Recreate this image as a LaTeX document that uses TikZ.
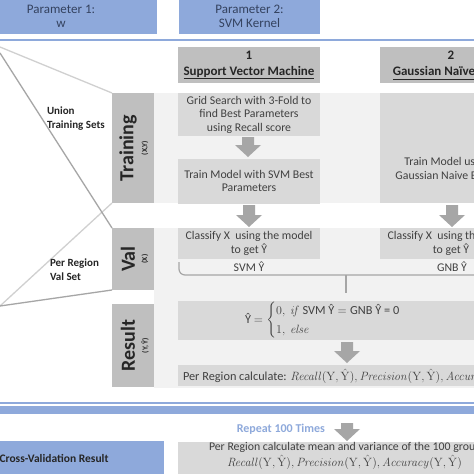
\documentclass[tikz,border=0pt]{standalone}
\usepackage{amsmath}
\usepackage[no-math]{fontspec}
\setmainfont{Carlito}
\definecolor{pblue}{HTML}{8EA9DB}
\definecolor{ptext}{HTML}{34425F}
\definecolor{hgray}{HTML}{BFBFBF}
\definecolor{bgray}{HTML}{D9D9D9}
\definecolor{lgray}{HTML}{F2F2F2}
\definecolor{agray}{HTML}{A6A6A6}
\definecolor{llgray}{HTML}{D0D0D0}
\definecolor{tgray}{HTML}{404040}
\newcommand\blockarrow[3]{\fill[agray] (#1-6,#2) -- (#1+6,#2) -- (#1+6,#3-12) -- (#1+13,#3-12) -- (#1,#3) -- (#1-13,#3-12) -- (#1-6,#3-12) -- cycle;}
\newcommand\Yh{\hat{\mathrm{Y}}}
\tikzset{
  x=1pt, y=-1pt,
  every node/.style={inner sep=0pt, outer sep=0pt},
  bodyfont/.style={font=\fontsize{11.8}{13.5}\selectfont},
  parambox/.style={fill=pblue, text=ptext, align=center, font=\fontsize{13}{14}\selectfont},
  headbox/.style={fill=hgray, text=black!85, align=center, font=\fontsize{13}{16}\selectfont\bfseries},
  stepbox/.style={fill=bgray, text=tgray, align=center, bodyfont},
  panel/.style={fill=lgray},
  labbox/.style={fill=hgray, minimum width=42},
  labtxt/.style={rotate=90, text=black!85, font=\fontsize{20}{22}\selectfont\bfseries},
  subtxt/.style={rotate=90, text=black!85, font=\fontsize{7.5}{8}\selectfont\bfseries},
  sidetxt/.style={align=left, anchor=west, text=black!85, font=\fontsize{11}{14}\selectfont\bfseries},
  plaintxt/.style={text=tgray, bodyfont},
  restxtstyle/.style={text=tgray, font=\fontsize{12.3}{16}\selectfont},
  lline/.style={draw=llgray, line width=1.3},
  dline/.style={draw=agray, line width=1.3},
  brace/.style={draw=agray, line width=1.2},
  sepline/.style={draw=pblue},
}
\begin{document}
\begin{tikzpicture}
\useasboundingbox (0,0) rectangle (474,474);
\clip (0,0) rectangle (474,474);
\fill[white] (0,0) rectangle (474,474);

% top parameter boxes
\node[parambox, minimum width=192, minimum height=34] (p1) at (61,16.5) {Parameter 1:\\w};
\node[parambox, minimum width=141, minimum height=34] (p2) at (249.5,16.5) {Parameter 2:\\SVM Kernel};
\draw[sepline, line width=2.5] (-5,40) -- (480,40);

% background panels
\node[panel, anchor=north west, minimum width=400, minimum height=110] (trpanel) at (154,93) {};
\node[panel, anchor=north west, minimum width=400, minimum height=160] (vrpanel) at (154,228) {};

% column headers
\node[headbox, minimum width=142, minimum height=36] (h1) at (249,65) {1\\\underline{Support Vector Machine}};
\node[headbox, minimum width=142, minimum height=36] (h2) at (451,65) {2\\\underline{Gaussian Naïve Bayes}};

% row labels
\node[labbox, minimum height=110] (trainlab) at (133,148) {};
\node[labtxt] (traintxt) at (128,148) {Training};
\node[subtxt] (trainsub) at (145,148) {(X,Y)};
\node[labbox, minimum height=62] (vallab) at (133,259) {};
\node[labtxt] (valtxt) at (128,259) {Val};
\node[subtxt] (valsub) at (145,259) {(X)};
\node[labbox, minimum height=83] (reslab) at (133,345.5) {};
\node[labtxt] (restxt) at (128,345.5) {Result};
\node[subtxt] (ressub) at (145,345.5) {(Y, Ŷ)};

% funnel lines
\coordinate (fa) at (0,47);
\coordinate (fb) at (0,53);
\coordinate (fc) at (0,306);
\draw[lline] (fa) -- (trainlab.north west);
\draw[lline] (trainlab.south west) -- (fc);
\draw[dline] (fb) -- (vallab.north west);
\draw[dline] (vallab.south west) -- (fc);
\node[sidetxt] (union) at (47,119) {Union\\Training Sets};
\node[sidetxt] (perval) at (50,270) {Per Region\\Val Set};

% SVM column
\node[stepbox, minimum width=142, minimum height=43] (grid) at (249,114.5) {Grid Search with 3-Fold to\\find Best Parameters\\using Recall score};
\node[stepbox, minimum width=142, minimum height=45] (trsvm) at (249,181) {Train Model with SVM Best\\Parameters};
\blockarrow{248}{137}{157}
\blockarrow{249}{205}{227}
\node[stepbox, minimum width=142, minimum height=31] (clsvm) at (249,243.5) {Classify X\ \ using the model\\to get Ŷ};
\node[plaintxt] (svmy) at (249,267) {SVM Ŷ};

% GNB column
\node[stepbox, minimum width=142, minimum height=110] (trgnb) at (451,148) {};
\node[plaintxt, align=center] (trgnbtxt) at (447,169.5) {Train Model using\\Gaussian Naive Bayes};
\blockarrow{452}{205}{227}
\node[stepbox, minimum width=142, minimum height=31] (clgnb) at (451,243.5) {Classify X\ \ using the model\\to get Ŷ};
\node[plaintxt] (gnby) at (452,267) {GNB Ŷ};

% brace
\coordinate (brL) at (179,262);
\coordinate (brM) at (346,275);
\coordinate (brR) at (513,262);
\coordinate (brT) at (346,293);
\draw[brace, rounded corners=6] (brL) |- (brM) -| (brR);
\draw[brace] (brM) -- (brT);

% result row
\node[stepbox, minimum width=302, minimum height=35, restxtstyle] (formula) at (329,320.5)
  {Ŷ $= \begin{cases} 0,\ \mathit{if}\ \text{SVM Ŷ} = \text{GNB Ŷ = 0}\\ 1,\ \mathit{else}\end{cases}$};
\blockarrow{347}{342}{363}
\node[stepbox, anchor=north west, minimum width=380, minimum height=21] (perreg) at (178,365) {};
\node[restxtstyle, anchor=west] (perregtxt) at (183,376)
  {Per Region calculate: $\mathit{Recall}(\mathrm{Y},\Yh),\mathit{Precision}(\mathrm{Y},\Yh),\mathit{Accuracy}(\mathrm{Y},\Yh)$};

% separator
\draw[sepline, line width=2] (-5,403) -- (480,403);
\draw[sepline, line width=8] (-5,410) -- (480,410);

% final
\node[text=pblue, anchor=east, font=\fontsize{12}{13}\selectfont\bfseries] (repeat) at (325,429) {Repeat 100 Times};
\blockarrow{347}{423}{441}
\node[fill=pblue, minimum width=220, minimum height=35, text=black!85, font=\fontsize{11.5}{14}\selectfont\bfseries] (cvres) at (54,458.5) {Cross-Validation Result};
\node[stepbox, anchor=north west, minimum width=380, minimum height=34] (final) at (178,442) {};
\node[restxtstyle, anchor=north west, align=left, font=\fontsize{11.8}{16}\selectfont] (finaltxt) at (209,442)
  {Per Region calculate mean and variance of the 100 groups\\\hspace*{18pt}$\mathit{Recall}(\mathrm{Y},\Yh),\mathit{Precision}(\mathrm{Y},\Yh),\mathit{Accuracy}(\mathrm{Y},\Yh)$};
\end{tikzpicture}
\end{document}
